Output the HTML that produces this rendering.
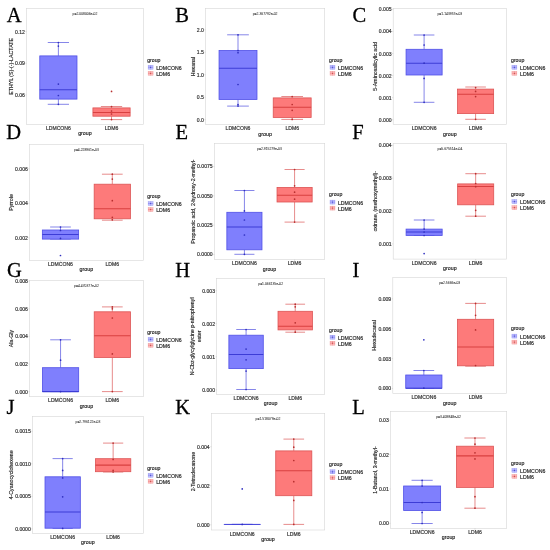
<!DOCTYPE html>
<html><head><meta charset="utf-8"><title>Boxplots</title>
<style>
html,body{margin:0;padding:0;background:#fff;}
svg{display:block;}
text{font-family:"Liberation Sans",Arial,sans-serif;}
.lt{font-family:"Liberation Serif","Times New Roman",serif;font-size:20.5px;fill:#000;stroke:#000;stroke-width:0.3px;}
.pv{font-size:3.4px;fill:#333;stroke:#333;stroke-width:0.05px;text-anchor:middle;}
.tk{font-size:5.1px;fill:#333;stroke:#333;stroke-width:0.18px;text-anchor:end;}
.xl{font-size:5.1px;fill:#333;stroke:#333;stroke-width:0.18px;text-anchor:middle;}
.xt{font-size:5.3px;fill:#222;stroke:#222;stroke-width:0.15px;text-anchor:middle;}
.yt{font-size:5.25px;fill:#222;stroke:#222;stroke-width:0.15px;text-anchor:middle;}
.lg{font-size:5.2px;fill:#222;stroke:#222;stroke-width:0.15px;}
</style></head>
<body>
<svg width="550" height="550" viewBox="0 0 550 550">
<rect width="550" height="550" fill="#fff"/>
<g>
<text x="6.7" y="22.25" class="lt">A</text>
<rect x="26.5" y="8.55" width="116.9" height="115.75" fill="#fff" stroke="#d6d6d6" stroke-width="0.6"/>
<text x="84.95" y="14.95" class="pv">p=2.008006e-02</text>
<text x="24.9" y="33.6" class="tk">0.12</text>
<line x1="25.5" y1="31.6" x2="26.5" y2="31.6" stroke="#aaa" stroke-width="0.4"/>
<text x="24.9" y="65.25" class="tk">0.09</text>
<line x1="25.5" y1="63.25" x2="26.5" y2="63.25" stroke="#aaa" stroke-width="0.4"/>
<text x="24.9" y="96.9" class="tk">0.06</text>
<line x1="25.5" y1="94.9" x2="26.5" y2="94.9" stroke="#aaa" stroke-width="0.4"/>
<line x1="58.38" y1="124.3" x2="58.38" y2="125.6" stroke="#aaa" stroke-width="0.4"/>
<line x1="111.52" y1="124.3" x2="111.52" y2="125.6" stroke="#aaa" stroke-width="0.4"/>
<text x="58.38" y="129.9" class="xl">LDMCON6</text>
<text x="111.52" y="129.9" class="xl">LDM6</text>
<text x="84.95" y="135.3" class="xt">group</text>
<text transform="translate(12.87,66.42) rotate(-90)" x="0" y="0" class="yt">ETHYL (S)-(-)-LACTATE</text>
<line x1="58.38" y1="42.5" x2="58.38" y2="55.9" stroke="#5252e0" stroke-width="0.7"/>
<line x1="58.38" y1="99.1" x2="58.38" y2="104.3" stroke="#5252e0" stroke-width="0.7"/>
<line x1="47.75" y1="42.5" x2="69.01" y2="42.5" stroke="#5252e0" stroke-width="0.7"/>
<line x1="47.75" y1="104.3" x2="69.01" y2="104.3" stroke="#5252e0" stroke-width="0.7"/>
<rect x="39.78" y="55.9" width="37.2" height="43.2" fill="#7f7ffd" stroke="#5050e6" stroke-width="0.8"/>
<line x1="39.78" y1="89.8" x2="76.98" y2="89.8" stroke="#3c3cd6" stroke-width="1.1" stroke-opacity="1"/>
<circle cx="58.38" cy="42.5" r="0.85" fill="#3030c0"/>
<circle cx="58.38" cy="46.1" r="0.85" fill="#3030c0"/>
<circle cx="58.38" cy="84.1" r="0.85" fill="#3030c0"/>
<circle cx="58.38" cy="95.5" r="0.85" fill="#3030c0"/>
<circle cx="58.38" cy="104.3" r="0.85" fill="#3030c0"/>
<line x1="111.52" y1="106.5" x2="111.52" y2="107.9" stroke="#dc5a5a" stroke-width="0.7"/>
<line x1="111.52" y1="116.2" x2="111.52" y2="119.6" stroke="#dc5a5a" stroke-width="0.7"/>
<line x1="100.89" y1="106.5" x2="122.15" y2="106.5" stroke="#dc5a5a" stroke-width="0.7"/>
<line x1="100.89" y1="119.6" x2="122.15" y2="119.6" stroke="#dc5a5a" stroke-width="0.7"/>
<rect x="92.92" y="107.9" width="37.2" height="8.3" fill="#fd7a7a" stroke="#dc5454" stroke-width="0.8"/>
<line x1="92.92" y1="112.5" x2="130.12" y2="112.5" stroke="#d84040" stroke-width="1.1" stroke-opacity="1"/>
<circle cx="111.52" cy="91.4" r="0.85" fill="#b83030"/>
<circle cx="111.52" cy="106.5" r="0.85" fill="#b83030"/>
<circle cx="111.52" cy="111" r="0.85" fill="#b83030"/>
<circle cx="111.52" cy="114" r="0.85" fill="#b83030"/>
<circle cx="111.52" cy="119.6" r="0.85" fill="#b83030"/>
<text x="147.2" y="61.6" class="lg">group</text>
<rect x="148.1" y="65.3" width="5" height="4.0" fill="#7f7ffd" fill-opacity="0.5" stroke="#5050e6" stroke-opacity="0.55" stroke-width="0.35"/>
<line x1="148.1" y1="67.3" x2="153.1" y2="67.3" stroke="#3c3cd6" stroke-opacity="0.6" stroke-width="0.45"/>
<line x1="150.6" y1="65.1" x2="150.6" y2="69.5" stroke="#3c3cd6" stroke-opacity="0.5" stroke-width="0.4"/>
<circle cx="150.6" cy="67.3" r="0.6" fill="#3030c0" fill-opacity="0.7"/>
<text x="156.2" y="69.8" class="lg">LDMCON6</text>
<rect x="148.1" y="71.3" width="5" height="4.0" fill="#fd7a7a" fill-opacity="0.5" stroke="#dc5454" stroke-opacity="0.55" stroke-width="0.35"/>
<line x1="148.1" y1="73.3" x2="153.1" y2="73.3" stroke="#d84040" stroke-opacity="0.6" stroke-width="0.45"/>
<line x1="150.6" y1="71.1" x2="150.6" y2="75.5" stroke="#d84040" stroke-opacity="0.5" stroke-width="0.4"/>
<circle cx="150.6" cy="73.3" r="0.6" fill="#b83030" fill-opacity="0.7"/>
<text x="156.2" y="75.8" class="lg">LDM6</text>
</g>
<g>
<text x="175.2" y="21.95" class="lt">B</text>
<rect x="205.5" y="8.5" width="119.2" height="116" fill="#fff" stroke="#d6d6d6" stroke-width="0.6"/>
<text x="265.1" y="14.9" class="pv">p=2.367792e-02</text>
<text x="203.9" y="31.75" class="tk">2.0</text>
<line x1="204.5" y1="29.75" x2="205.5" y2="29.75" stroke="#aaa" stroke-width="0.4"/>
<text x="203.9" y="54.2" class="tk">1.5</text>
<line x1="204.5" y1="52.2" x2="205.5" y2="52.2" stroke="#aaa" stroke-width="0.4"/>
<text x="203.9" y="76.7" class="tk">1.0</text>
<line x1="204.5" y1="74.7" x2="205.5" y2="74.7" stroke="#aaa" stroke-width="0.4"/>
<text x="203.9" y="99.2" class="tk">0.5</text>
<line x1="204.5" y1="97.2" x2="205.5" y2="97.2" stroke="#aaa" stroke-width="0.4"/>
<text x="203.9" y="121.65" class="tk">0.0</text>
<line x1="204.5" y1="119.65" x2="205.5" y2="119.65" stroke="#aaa" stroke-width="0.4"/>
<line x1="238.01" y1="124.5" x2="238.01" y2="125.8" stroke="#aaa" stroke-width="0.4"/>
<line x1="292.19" y1="124.5" x2="292.19" y2="125.8" stroke="#aaa" stroke-width="0.4"/>
<text x="238.01" y="130.1" class="xl">LDMCON6</text>
<text x="292.19" y="130.1" class="xl">LDM6</text>
<text x="265.1" y="135.5" class="xt">group</text>
<text transform="translate(194.71,66.5) rotate(-90)" x="0" y="0" class="yt">Hexanal</text>
<line x1="238.01" y1="34.8" x2="238.01" y2="50.5" stroke="#5252e0" stroke-width="0.7"/>
<line x1="238.01" y1="99.5" x2="238.01" y2="106.1" stroke="#5252e0" stroke-width="0.7"/>
<line x1="227.17" y1="34.8" x2="248.85" y2="34.8" stroke="#5252e0" stroke-width="0.7"/>
<line x1="227.17" y1="106.1" x2="248.85" y2="106.1" stroke="#5252e0" stroke-width="0.7"/>
<rect x="219.05" y="50.5" width="37.93" height="49" fill="#7f7ffd" stroke="#5050e6" stroke-width="0.8"/>
<line x1="219.05" y1="68.2" x2="256.97" y2="68.2" stroke="#3c3cd6" stroke-width="1.1" stroke-opacity="1"/>
<circle cx="238.01" cy="34.8" r="0.85" fill="#3030c0"/>
<circle cx="238.01" cy="50.5" r="0.85" fill="#3030c0"/>
<circle cx="238.01" cy="52.7" r="0.85" fill="#3030c0"/>
<circle cx="238.01" cy="84.5" r="0.85" fill="#3030c0"/>
<circle cx="238.01" cy="104.5" r="0.85" fill="#3030c0"/>
<circle cx="238.01" cy="106.1" r="0.85" fill="#3030c0"/>
<line x1="292.19" y1="96.5" x2="292.19" y2="97.9" stroke="#dc5a5a" stroke-width="0.7"/>
<line x1="292.19" y1="117.5" x2="292.19" y2="119.4" stroke="#dc5a5a" stroke-width="0.7"/>
<line x1="281.35" y1="96.5" x2="303.03" y2="96.5" stroke="#dc5a5a" stroke-width="0.7"/>
<line x1="281.35" y1="119.4" x2="303.03" y2="119.4" stroke="#dc5a5a" stroke-width="0.7"/>
<rect x="273.23" y="97.9" width="37.93" height="19.6" fill="#fd7a7a" stroke="#dc5454" stroke-width="0.8"/>
<line x1="273.23" y1="107.3" x2="311.15" y2="107.3" stroke="#d84040" stroke-width="1.1" stroke-opacity="1"/>
<circle cx="292.19" cy="96.5" r="0.85" fill="#b83030"/>
<circle cx="292.19" cy="104.5" r="0.85" fill="#b83030"/>
<circle cx="292.19" cy="110.3" r="0.85" fill="#b83030"/>
<circle cx="292.19" cy="119.4" r="0.85" fill="#b83030"/>
<text x="329.1" y="61.6" class="lg">group</text>
<rect x="330" y="65.3" width="5" height="4.0" fill="#7f7ffd" fill-opacity="0.5" stroke="#5050e6" stroke-opacity="0.55" stroke-width="0.35"/>
<line x1="330" y1="67.3" x2="335" y2="67.3" stroke="#3c3cd6" stroke-opacity="0.6" stroke-width="0.45"/>
<line x1="332.5" y1="65.1" x2="332.5" y2="69.5" stroke="#3c3cd6" stroke-opacity="0.5" stroke-width="0.4"/>
<circle cx="332.5" cy="67.3" r="0.6" fill="#3030c0" fill-opacity="0.7"/>
<text x="337.9" y="69.8" class="lg">LDMCON6</text>
<rect x="330" y="71.3" width="5" height="4.0" fill="#fd7a7a" fill-opacity="0.5" stroke="#dc5454" stroke-opacity="0.55" stroke-width="0.35"/>
<line x1="330" y1="73.3" x2="335" y2="73.3" stroke="#d84040" stroke-opacity="0.6" stroke-width="0.45"/>
<line x1="332.5" y1="71.1" x2="332.5" y2="75.5" stroke="#d84040" stroke-opacity="0.5" stroke-width="0.4"/>
<circle cx="332.5" cy="73.3" r="0.6" fill="#b83030" fill-opacity="0.7"/>
<text x="337.9" y="75.8" class="lg">LDM6</text>
</g>
<g>
<text x="352.5" y="22.4" class="lt">C</text>
<rect x="393.2" y="8.4" width="113.3" height="116.1" fill="#fff" stroke="#d6d6d6" stroke-width="0.6"/>
<text x="449.85" y="14.8" class="pv">p=1.143957e-03</text>
<text x="391.6" y="11.35" class="tk">0.005</text>
<line x1="392.2" y1="9.35" x2="393.2" y2="9.35" stroke="#aaa" stroke-width="0.4"/>
<text x="391.6" y="33.43" class="tk">0.004</text>
<line x1="392.2" y1="31.43" x2="393.2" y2="31.43" stroke="#aaa" stroke-width="0.4"/>
<text x="391.6" y="55.5" class="tk">0.003</text>
<line x1="392.2" y1="53.5" x2="393.2" y2="53.5" stroke="#aaa" stroke-width="0.4"/>
<text x="391.6" y="77.6" class="tk">0.002</text>
<line x1="392.2" y1="75.6" x2="393.2" y2="75.6" stroke="#aaa" stroke-width="0.4"/>
<text x="391.6" y="99.7" class="tk">0.001</text>
<line x1="392.2" y1="97.7" x2="393.2" y2="97.7" stroke="#aaa" stroke-width="0.4"/>
<text x="391.6" y="121.75" class="tk">0.000</text>
<line x1="392.2" y1="119.75" x2="393.2" y2="119.75" stroke="#aaa" stroke-width="0.4"/>
<line x1="424.1" y1="124.5" x2="424.1" y2="125.8" stroke="#aaa" stroke-width="0.4"/>
<line x1="475.6" y1="124.5" x2="475.6" y2="125.8" stroke="#aaa" stroke-width="0.4"/>
<text x="424.1" y="130.1" class="xl">LDMCON6</text>
<text x="475.6" y="130.1" class="xl">LDM6</text>
<text x="449.85" y="135.5" class="xt">group</text>
<text transform="translate(376.74,66.45) rotate(-90)" x="0" y="0" class="yt">5-Aminosalicylic acid</text>
<line x1="424.1" y1="35" x2="424.1" y2="49.3" stroke="#5252e0" stroke-width="0.7"/>
<line x1="424.1" y1="75" x2="424.1" y2="102.3" stroke="#5252e0" stroke-width="0.7"/>
<line x1="413.8" y1="35" x2="434.4" y2="35" stroke="#5252e0" stroke-width="0.7"/>
<line x1="413.8" y1="102.3" x2="434.4" y2="102.3" stroke="#5252e0" stroke-width="0.7"/>
<rect x="406.07" y="49.3" width="36.05" height="25.7" fill="#7f7ffd" stroke="#5050e6" stroke-width="0.8"/>
<line x1="406.07" y1="63.2" x2="442.12" y2="63.2" stroke="#3c3cd6" stroke-width="1.1" stroke-opacity="1"/>
<circle cx="424.1" cy="35" r="0.85" fill="#3030c0"/>
<circle cx="424.1" cy="45" r="0.85" fill="#3030c0"/>
<circle cx="424.1" cy="63.2" r="0.85" fill="#3030c0"/>
<circle cx="424.1" cy="78.4" r="0.85" fill="#3030c0"/>
<circle cx="424.1" cy="102.3" r="0.85" fill="#3030c0"/>
<line x1="475.6" y1="87" x2="475.6" y2="89.1" stroke="#dc5a5a" stroke-width="0.7"/>
<line x1="475.6" y1="113.6" x2="475.6" y2="119.3" stroke="#dc5a5a" stroke-width="0.7"/>
<line x1="465.3" y1="87" x2="485.9" y2="87" stroke="#dc5a5a" stroke-width="0.7"/>
<line x1="465.3" y1="119.3" x2="485.9" y2="119.3" stroke="#dc5a5a" stroke-width="0.7"/>
<rect x="457.58" y="89.1" width="36.05" height="24.5" fill="#fd7a7a" stroke="#dc5454" stroke-width="0.8"/>
<line x1="457.58" y1="94.3" x2="493.62" y2="94.3" stroke="#d84040" stroke-width="1.1" stroke-opacity="1"/>
<circle cx="475.6" cy="87.5" r="0.85" fill="#b83030"/>
<circle cx="475.6" cy="91.4" r="0.85" fill="#b83030"/>
<circle cx="475.6" cy="96.6" r="0.85" fill="#b83030"/>
<circle cx="475.6" cy="119.3" r="0.85" fill="#b83030"/>
<text x="511" y="61.6" class="lg">group</text>
<rect x="511.9" y="65.3" width="5" height="4.0" fill="#7f7ffd" fill-opacity="0.5" stroke="#5050e6" stroke-opacity="0.55" stroke-width="0.35"/>
<line x1="511.9" y1="67.3" x2="516.9" y2="67.3" stroke="#3c3cd6" stroke-opacity="0.6" stroke-width="0.45"/>
<line x1="514.4" y1="65.1" x2="514.4" y2="69.5" stroke="#3c3cd6" stroke-opacity="0.5" stroke-width="0.4"/>
<circle cx="514.4" cy="67.3" r="0.6" fill="#3030c0" fill-opacity="0.7"/>
<text x="520" y="69.8" class="lg">LDMCON6</text>
<rect x="511.9" y="71.3" width="5" height="4.0" fill="#fd7a7a" fill-opacity="0.5" stroke="#dc5454" stroke-opacity="0.55" stroke-width="0.35"/>
<line x1="511.9" y1="73.3" x2="516.9" y2="73.3" stroke="#d84040" stroke-opacity="0.6" stroke-width="0.45"/>
<line x1="514.4" y1="71.1" x2="514.4" y2="75.5" stroke="#d84040" stroke-opacity="0.5" stroke-width="0.4"/>
<circle cx="514.4" cy="73.3" r="0.6" fill="#b83030" fill-opacity="0.7"/>
<text x="520" y="75.8" class="lg">LDM6</text>
</g>
<g>
<text x="6.15" y="138.8" class="lt">D</text>
<rect x="29.4" y="144.5" width="114" height="115.9" fill="#fff" stroke="#d6d6d6" stroke-width="0.6"/>
<text x="86.4" y="150.9" class="pv">p=4.228961e-03</text>
<text x="27.8" y="170.7" class="tk">0.006</text>
<line x1="28.4" y1="168.7" x2="29.4" y2="168.7" stroke="#aaa" stroke-width="0.4"/>
<text x="27.8" y="205.3" class="tk">0.004</text>
<line x1="28.4" y1="203.3" x2="29.4" y2="203.3" stroke="#aaa" stroke-width="0.4"/>
<text x="27.8" y="239.9" class="tk">0.002</text>
<line x1="28.4" y1="237.9" x2="29.4" y2="237.9" stroke="#aaa" stroke-width="0.4"/>
<line x1="60.49" y1="260.4" x2="60.49" y2="261.7" stroke="#aaa" stroke-width="0.4"/>
<line x1="112.31" y1="260.4" x2="112.31" y2="261.7" stroke="#aaa" stroke-width="0.4"/>
<text x="60.49" y="266" class="xl">LDMCON6</text>
<text x="112.31" y="266" class="xl">LDM6</text>
<text x="86.4" y="271.4" class="xt">group</text>
<text transform="translate(12.94,202.45) rotate(-90)" x="0" y="0" class="yt">Pyrrole</text>
<line x1="60.49" y1="227" x2="60.49" y2="230" stroke="#5252e0" stroke-width="0.7"/>
<line x1="60.49" y1="239.1" x2="60.49" y2="239.1" stroke="#5252e0" stroke-width="0.7"/>
<line x1="50.13" y1="227" x2="70.85" y2="227" stroke="#5252e0" stroke-width="0.7"/>
<line x1="50.13" y1="239.1" x2="70.85" y2="239.1" stroke="#5252e0" stroke-width="0.7"/>
<rect x="42.35" y="230" width="36.27" height="9.1" fill="#7f7ffd" stroke="#5050e6" stroke-width="0.8"/>
<line x1="42.35" y1="234.5" x2="78.63" y2="234.5" stroke="#3c3cd6" stroke-width="1.1" stroke-opacity="1"/>
<circle cx="60.49" cy="227" r="0.85" fill="#3030c0"/>
<circle cx="60.49" cy="230.5" r="0.85" fill="#3030c0"/>
<circle cx="60.49" cy="238.4" r="0.85" fill="#3030c0"/>
<circle cx="60.49" cy="255.5" r="0.85" fill="#3030c0"/>
<line x1="112.31" y1="174.2" x2="112.31" y2="184.2" stroke="#dc5a5a" stroke-width="0.7"/>
<line x1="112.31" y1="218.8" x2="112.31" y2="220.2" stroke="#dc5a5a" stroke-width="0.7"/>
<line x1="101.95" y1="174.2" x2="122.67" y2="174.2" stroke="#dc5a5a" stroke-width="0.7"/>
<line x1="101.95" y1="220.2" x2="122.67" y2="220.2" stroke="#dc5a5a" stroke-width="0.7"/>
<rect x="94.17" y="184.2" width="36.27" height="34.6" fill="#fd7a7a" stroke="#dc5454" stroke-width="0.8"/>
<line x1="94.17" y1="208.7" x2="130.45" y2="208.7" stroke="#d84040" stroke-width="1.1" stroke-opacity="1"/>
<circle cx="112.31" cy="174.2" r="0.85" fill="#b83030"/>
<circle cx="112.31" cy="179.1" r="0.85" fill="#b83030"/>
<circle cx="112.31" cy="200.7" r="0.85" fill="#b83030"/>
<circle cx="112.31" cy="217.3" r="0.85" fill="#b83030"/>
<circle cx="112.31" cy="219.8" r="0.85" fill="#b83030"/>
<text x="147.2" y="197.8" class="lg">group</text>
<rect x="148.1" y="201.5" width="5" height="4.0" fill="#7f7ffd" fill-opacity="0.5" stroke="#5050e6" stroke-opacity="0.55" stroke-width="0.35"/>
<line x1="148.1" y1="203.5" x2="153.1" y2="203.5" stroke="#3c3cd6" stroke-opacity="0.6" stroke-width="0.45"/>
<line x1="150.6" y1="201.3" x2="150.6" y2="205.7" stroke="#3c3cd6" stroke-opacity="0.5" stroke-width="0.4"/>
<circle cx="150.6" cy="203.5" r="0.6" fill="#3030c0" fill-opacity="0.7"/>
<text x="156.2" y="206" class="lg">LDMCON6</text>
<rect x="148.1" y="207.5" width="5" height="4.0" fill="#fd7a7a" fill-opacity="0.5" stroke="#dc5454" stroke-opacity="0.55" stroke-width="0.35"/>
<line x1="148.1" y1="209.5" x2="153.1" y2="209.5" stroke="#d84040" stroke-opacity="0.6" stroke-width="0.45"/>
<line x1="150.6" y1="207.3" x2="150.6" y2="211.7" stroke="#d84040" stroke-opacity="0.5" stroke-width="0.4"/>
<circle cx="150.6" cy="209.5" r="0.6" fill="#b83030" fill-opacity="0.7"/>
<text x="156.2" y="212" class="lg">LDM6</text>
</g>
<g>
<text x="175.45" y="139.15" class="lt">E</text>
<rect x="214.3" y="143.5" width="110.4" height="116.1" fill="#fff" stroke="#d6d6d6" stroke-width="0.6"/>
<text x="269.5" y="149.9" class="pv">p=2.915279e-03</text>
<text x="212.7" y="168.45" class="tk">0.0075</text>
<line x1="213.3" y1="166.45" x2="214.3" y2="166.45" stroke="#aaa" stroke-width="0.4"/>
<text x="212.7" y="197.8" class="tk">0.0050</text>
<line x1="213.3" y1="195.8" x2="214.3" y2="195.8" stroke="#aaa" stroke-width="0.4"/>
<text x="212.7" y="227.1" class="tk">0.0025</text>
<line x1="213.3" y1="225.1" x2="214.3" y2="225.1" stroke="#aaa" stroke-width="0.4"/>
<text x="212.7" y="256.45" class="tk">0.0000</text>
<line x1="213.3" y1="254.45" x2="214.3" y2="254.45" stroke="#aaa" stroke-width="0.4"/>
<line x1="244.41" y1="259.6" x2="244.41" y2="260.9" stroke="#aaa" stroke-width="0.4"/>
<line x1="294.59" y1="259.6" x2="294.59" y2="260.9" stroke="#aaa" stroke-width="0.4"/>
<text x="244.41" y="265.2" class="xl">LDMCON6</text>
<text x="294.59" y="265.2" class="xl">LDM6</text>
<text x="269.5" y="270.6" class="xt">group</text>
<text transform="translate(195,201.55) rotate(-90)" x="0" y="0" class="yt">Propanoic acid, 2-hydroxy-2-methyl-</text>
<line x1="244.41" y1="190.5" x2="244.41" y2="212.3" stroke="#5252e0" stroke-width="0.7"/>
<line x1="244.41" y1="249.8" x2="244.41" y2="254.3" stroke="#5252e0" stroke-width="0.7"/>
<line x1="234.37" y1="190.5" x2="254.45" y2="190.5" stroke="#5252e0" stroke-width="0.7"/>
<line x1="234.37" y1="254.3" x2="254.45" y2="254.3" stroke="#5252e0" stroke-width="0.7"/>
<rect x="226.85" y="212.3" width="35.13" height="37.5" fill="#7f7ffd" stroke="#5050e6" stroke-width="0.8"/>
<line x1="226.85" y1="227" x2="261.97" y2="227" stroke="#3c3cd6" stroke-width="1.1" stroke-opacity="1"/>
<circle cx="244.41" cy="190.5" r="0.85" fill="#3030c0"/>
<circle cx="244.41" cy="210.9" r="0.85" fill="#3030c0"/>
<circle cx="244.41" cy="220" r="0.85" fill="#3030c0"/>
<circle cx="244.41" cy="235" r="0.85" fill="#3030c0"/>
<circle cx="244.41" cy="254.3" r="0.85" fill="#3030c0"/>
<line x1="294.59" y1="169.5" x2="294.59" y2="187.4" stroke="#dc5a5a" stroke-width="0.7"/>
<line x1="294.59" y1="202" x2="294.59" y2="222.1" stroke="#dc5a5a" stroke-width="0.7"/>
<line x1="284.55" y1="169.5" x2="304.63" y2="169.5" stroke="#dc5a5a" stroke-width="0.7"/>
<line x1="284.55" y1="222.1" x2="304.63" y2="222.1" stroke="#dc5a5a" stroke-width="0.7"/>
<rect x="277.03" y="187.4" width="35.13" height="14.6" fill="#fd7a7a" stroke="#dc5454" stroke-width="0.8"/>
<line x1="277.03" y1="195.2" x2="312.15" y2="195.2" stroke="#d84040" stroke-width="1.1" stroke-opacity="1"/>
<circle cx="294.59" cy="169.5" r="0.85" fill="#b83030"/>
<circle cx="294.59" cy="185.8" r="0.85" fill="#b83030"/>
<circle cx="294.59" cy="192.2" r="0.85" fill="#b83030"/>
<circle cx="294.59" cy="199.2" r="0.85" fill="#b83030"/>
<circle cx="294.59" cy="222.1" r="0.85" fill="#b83030"/>
<text x="329.1" y="196.4" class="lg">group</text>
<rect x="330" y="200.1" width="5" height="4.0" fill="#7f7ffd" fill-opacity="0.5" stroke="#5050e6" stroke-opacity="0.55" stroke-width="0.35"/>
<line x1="330" y1="202.1" x2="335" y2="202.1" stroke="#3c3cd6" stroke-opacity="0.6" stroke-width="0.45"/>
<line x1="332.5" y1="199.9" x2="332.5" y2="204.3" stroke="#3c3cd6" stroke-opacity="0.5" stroke-width="0.4"/>
<circle cx="332.5" cy="202.1" r="0.6" fill="#3030c0" fill-opacity="0.7"/>
<text x="337.9" y="204.6" class="lg">LDMCON6</text>
<rect x="330" y="206.1" width="5" height="4.0" fill="#fd7a7a" fill-opacity="0.5" stroke="#dc5454" stroke-opacity="0.55" stroke-width="0.35"/>
<line x1="330" y1="208.1" x2="335" y2="208.1" stroke="#d84040" stroke-opacity="0.6" stroke-width="0.45"/>
<line x1="332.5" y1="205.9" x2="332.5" y2="210.3" stroke="#d84040" stroke-opacity="0.5" stroke-width="0.4"/>
<circle cx="332.5" cy="208.1" r="0.6" fill="#b83030" fill-opacity="0.7"/>
<text x="337.9" y="210.6" class="lg">LDM6</text>
</g>
<g>
<text x="352.35" y="138.95" class="lt">F</text>
<rect x="393.2" y="143.4" width="113.4" height="115.7" fill="#fff" stroke="#d6d6d6" stroke-width="0.6"/>
<text x="449.9" y="149.8" class="pv">p=5.675514e-04</text>
<text x="391.6" y="147.35" class="tk">0.004</text>
<line x1="392.2" y1="145.35" x2="393.2" y2="145.35" stroke="#aaa" stroke-width="0.4"/>
<text x="391.6" y="180.2" class="tk">0.003</text>
<line x1="392.2" y1="178.2" x2="393.2" y2="178.2" stroke="#aaa" stroke-width="0.4"/>
<text x="391.6" y="213" class="tk">0.002</text>
<line x1="392.2" y1="211" x2="393.2" y2="211" stroke="#aaa" stroke-width="0.4"/>
<text x="391.6" y="245.85" class="tk">0.001</text>
<line x1="392.2" y1="243.85" x2="393.2" y2="243.85" stroke="#aaa" stroke-width="0.4"/>
<line x1="424.13" y1="259.1" x2="424.13" y2="260.4" stroke="#aaa" stroke-width="0.4"/>
<line x1="475.67" y1="259.1" x2="475.67" y2="260.4" stroke="#aaa" stroke-width="0.4"/>
<text x="424.13" y="264.7" class="xl">LDMCON6</text>
<text x="475.67" y="264.7" class="xl">LDM6</text>
<text x="449.9" y="270.1" class="xt">group</text>
<text transform="translate(376.74,201.25) rotate(-90)" x="0" y="0" class="yt">oxirane, (methoxymethyl)-</text>
<line x1="424.13" y1="220" x2="424.13" y2="229.1" stroke="#5252e0" stroke-width="0.7"/>
<line x1="424.13" y1="235.5" x2="424.13" y2="235.5" stroke="#5252e0" stroke-width="0.7"/>
<line x1="413.82" y1="220" x2="434.44" y2="220" stroke="#5252e0" stroke-width="0.7"/>
<line x1="413.82" y1="235.5" x2="434.44" y2="235.5" stroke="#5252e0" stroke-width="0.7"/>
<rect x="406.09" y="229.1" width="36.08" height="6.4" fill="#7f7ffd" stroke="#5050e6" stroke-width="0.8"/>
<line x1="406.09" y1="232" x2="442.17" y2="232" stroke="#3c3cd6" stroke-width="1.1" stroke-opacity="1"/>
<circle cx="424.13" cy="220" r="0.85" fill="#3030c0"/>
<circle cx="424.13" cy="229.1" r="0.85" fill="#3030c0"/>
<circle cx="424.13" cy="232" r="0.85" fill="#3030c0"/>
<circle cx="424.13" cy="235.5" r="0.85" fill="#3030c0"/>
<circle cx="424.13" cy="253.6" r="0.85" fill="#3030c0"/>
<line x1="475.67" y1="173.7" x2="475.67" y2="183.9" stroke="#dc5a5a" stroke-width="0.7"/>
<line x1="475.67" y1="204.8" x2="475.67" y2="216.2" stroke="#dc5a5a" stroke-width="0.7"/>
<line x1="465.36" y1="173.7" x2="485.98" y2="173.7" stroke="#dc5a5a" stroke-width="0.7"/>
<line x1="465.36" y1="216.2" x2="485.98" y2="216.2" stroke="#dc5a5a" stroke-width="0.7"/>
<rect x="457.63" y="183.9" width="36.08" height="20.9" fill="#fd7a7a" stroke="#dc5454" stroke-width="0.8"/>
<line x1="457.63" y1="186.5" x2="493.71" y2="186.5" stroke="#d84040" stroke-width="1.1" stroke-opacity="1"/>
<circle cx="475.67" cy="173.7" r="0.85" fill="#b83030"/>
<circle cx="475.67" cy="183.5" r="0.85" fill="#b83030"/>
<circle cx="475.67" cy="186.7" r="0.85" fill="#b83030"/>
<circle cx="475.67" cy="210.3" r="0.85" fill="#b83030"/>
<circle cx="475.67" cy="216.2" r="0.85" fill="#b83030"/>
<text x="511" y="195.9" class="lg">group</text>
<rect x="511.9" y="199.6" width="5" height="4.0" fill="#7f7ffd" fill-opacity="0.5" stroke="#5050e6" stroke-opacity="0.55" stroke-width="0.35"/>
<line x1="511.9" y1="201.6" x2="516.9" y2="201.6" stroke="#3c3cd6" stroke-opacity="0.6" stroke-width="0.45"/>
<line x1="514.4" y1="199.4" x2="514.4" y2="203.8" stroke="#3c3cd6" stroke-opacity="0.5" stroke-width="0.4"/>
<circle cx="514.4" cy="201.6" r="0.6" fill="#3030c0" fill-opacity="0.7"/>
<text x="520" y="204.1" class="lg">LDMCON6</text>
<rect x="511.9" y="205.6" width="5" height="4.0" fill="#fd7a7a" fill-opacity="0.5" stroke="#dc5454" stroke-opacity="0.55" stroke-width="0.35"/>
<line x1="511.9" y1="207.6" x2="516.9" y2="207.6" stroke="#d84040" stroke-opacity="0.6" stroke-width="0.45"/>
<line x1="514.4" y1="205.4" x2="514.4" y2="209.8" stroke="#d84040" stroke-opacity="0.5" stroke-width="0.4"/>
<circle cx="514.4" cy="207.6" r="0.6" fill="#b83030" fill-opacity="0.7"/>
<text x="520" y="210.1" class="lg">LDM6</text>
</g>
<g>
<text x="6.95" y="277.15" class="lt">G</text>
<rect x="29.5" y="280.5" width="113.9" height="116.2" fill="#fff" stroke="#d6d6d6" stroke-width="0.6"/>
<text x="86.45" y="286.9" class="pv">p=4.470377e-02</text>
<text x="27.9" y="283.2" class="tk">0.008</text>
<line x1="28.5" y1="281.2" x2="29.5" y2="281.2" stroke="#aaa" stroke-width="0.4"/>
<text x="27.9" y="310.8" class="tk">0.006</text>
<line x1="28.5" y1="308.8" x2="29.5" y2="308.8" stroke="#aaa" stroke-width="0.4"/>
<text x="27.9" y="338.4" class="tk">0.004</text>
<line x1="28.5" y1="336.4" x2="29.5" y2="336.4" stroke="#aaa" stroke-width="0.4"/>
<text x="27.9" y="366" class="tk">0.002</text>
<line x1="28.5" y1="364" x2="29.5" y2="364" stroke="#aaa" stroke-width="0.4"/>
<text x="27.9" y="393.65" class="tk">0.000</text>
<line x1="28.5" y1="391.65" x2="29.5" y2="391.65" stroke="#aaa" stroke-width="0.4"/>
<line x1="60.56" y1="396.7" x2="60.56" y2="398" stroke="#aaa" stroke-width="0.4"/>
<line x1="112.34" y1="396.7" x2="112.34" y2="398" stroke="#aaa" stroke-width="0.4"/>
<text x="60.56" y="402.3" class="xl">LDMCON6</text>
<text x="112.34" y="402.3" class="xl">LDM6</text>
<text x="86.45" y="407.7" class="xt">group</text>
<text transform="translate(13.04,338.6) rotate(-90)" x="0" y="0" class="yt">Ala-Gly</text>
<line x1="60.56" y1="339.8" x2="60.56" y2="367.7" stroke="#5252e0" stroke-width="0.7"/>
<line x1="60.56" y1="391.6" x2="60.56" y2="391.6" stroke="#5252e0" stroke-width="0.7"/>
<line x1="50.21" y1="339.8" x2="70.92" y2="339.8" stroke="#5252e0" stroke-width="0.7"/>
<line x1="50.21" y1="391.6" x2="70.92" y2="391.6" stroke="#5252e0" stroke-width="0.7"/>
<rect x="42.44" y="367.7" width="36.24" height="23.9" fill="#7f7ffd" stroke="#5050e6" stroke-width="0.8"/>
<line x1="42.44" y1="391.6" x2="78.68" y2="391.6" stroke="#3c3cd6" stroke-width="1.1" stroke-opacity="1"/>
<circle cx="60.56" cy="339.8" r="0.85" fill="#3030c0"/>
<circle cx="60.56" cy="360.2" r="0.85" fill="#3030c0"/>
<circle cx="60.56" cy="391.6" r="0.85" fill="#3030c0"/>
<line x1="112.34" y1="306.9" x2="112.34" y2="311.8" stroke="#dc5a5a" stroke-width="0.7"/>
<line x1="112.34" y1="357.5" x2="112.34" y2="391.6" stroke="#dc5a5a" stroke-width="0.7"/>
<line x1="101.98" y1="306.9" x2="122.69" y2="306.9" stroke="#dc5a5a" stroke-width="0.7"/>
<line x1="101.98" y1="391.6" x2="122.69" y2="391.6" stroke="#dc5a5a" stroke-width="0.7"/>
<rect x="94.22" y="311.8" width="36.24" height="45.7" fill="#fd7a7a" stroke="#dc5454" stroke-width="0.8"/>
<line x1="94.22" y1="335.7" x2="130.46" y2="335.7" stroke="#d84040" stroke-width="1.1" stroke-opacity="1"/>
<circle cx="112.34" cy="306.9" r="0.85" fill="#b83030"/>
<circle cx="112.34" cy="308.8" r="0.85" fill="#b83030"/>
<circle cx="112.34" cy="318" r="0.85" fill="#b83030"/>
<circle cx="112.34" cy="353.9" r="0.85" fill="#b83030"/>
<circle cx="112.34" cy="391.6" r="0.85" fill="#b83030"/>
<text x="147.2" y="333.6" class="lg">group</text>
<rect x="148.1" y="337.3" width="5" height="4.0" fill="#7f7ffd" fill-opacity="0.5" stroke="#5050e6" stroke-opacity="0.55" stroke-width="0.35"/>
<line x1="148.1" y1="339.3" x2="153.1" y2="339.3" stroke="#3c3cd6" stroke-opacity="0.6" stroke-width="0.45"/>
<line x1="150.6" y1="337.1" x2="150.6" y2="341.5" stroke="#3c3cd6" stroke-opacity="0.5" stroke-width="0.4"/>
<circle cx="150.6" cy="339.3" r="0.6" fill="#3030c0" fill-opacity="0.7"/>
<text x="156.2" y="341.8" class="lg">LDMCON6</text>
<rect x="148.1" y="343.3" width="5" height="4.0" fill="#fd7a7a" fill-opacity="0.5" stroke="#dc5454" stroke-opacity="0.55" stroke-width="0.35"/>
<line x1="148.1" y1="345.3" x2="153.1" y2="345.3" stroke="#d84040" stroke-opacity="0.6" stroke-width="0.45"/>
<line x1="150.6" y1="343.1" x2="150.6" y2="347.5" stroke="#d84040" stroke-opacity="0.5" stroke-width="0.4"/>
<circle cx="150.6" cy="345.3" r="0.6" fill="#b83030" fill-opacity="0.7"/>
<text x="156.2" y="347.8" class="lg">LDM6</text>
</g>
<g>
<text x="175.3" y="277" class="lt">H</text>
<rect x="216.6" y="278.4" width="108.1" height="116" fill="#fff" stroke="#d6d6d6" stroke-width="0.6"/>
<text x="270.65" y="284.8" class="pv">p=1.066135e-02</text>
<text x="215" y="292.7" class="tk">0.003</text>
<line x1="215.6" y1="290.7" x2="216.6" y2="290.7" stroke="#aaa" stroke-width="0.4"/>
<text x="215" y="325.7" class="tk">0.002</text>
<line x1="215.6" y1="323.7" x2="216.6" y2="323.7" stroke="#aaa" stroke-width="0.4"/>
<text x="215" y="358.8" class="tk">0.001</text>
<line x1="215.6" y1="356.8" x2="216.6" y2="356.8" stroke="#aaa" stroke-width="0.4"/>
<text x="215" y="391.8" class="tk">0.000</text>
<line x1="215.6" y1="389.8" x2="216.6" y2="389.8" stroke="#aaa" stroke-width="0.4"/>
<line x1="246.08" y1="394.4" x2="246.08" y2="395.7" stroke="#aaa" stroke-width="0.4"/>
<line x1="295.22" y1="394.4" x2="295.22" y2="395.7" stroke="#aaa" stroke-width="0.4"/>
<text x="246.08" y="400" class="xl">LDMCON6</text>
<text x="295.22" y="400" class="xl">LDM6</text>
<text x="270.65" y="405.4" class="xt">group</text>
<text transform="translate(194.24,336.4) rotate(-90)" x="0" y="0" class="yt">N-Cbz-glycylglycine p-nitrophenyl</text>
<text transform="translate(200.54,336.4) rotate(-90)" x="0" y="0" class="yt">ester</text>
<line x1="246.08" y1="329.5" x2="246.08" y2="335.2" stroke="#5252e0" stroke-width="0.7"/>
<line x1="246.08" y1="368.6" x2="246.08" y2="389.5" stroke="#5252e0" stroke-width="0.7"/>
<line x1="236.25" y1="329.5" x2="255.91" y2="329.5" stroke="#5252e0" stroke-width="0.7"/>
<line x1="236.25" y1="389.5" x2="255.91" y2="389.5" stroke="#5252e0" stroke-width="0.7"/>
<rect x="228.88" y="335.2" width="34.4" height="33.4" fill="#7f7ffd" stroke="#5050e6" stroke-width="0.8"/>
<line x1="228.88" y1="354.5" x2="263.28" y2="354.5" stroke="#3c3cd6" stroke-width="1.1" stroke-opacity="1"/>
<circle cx="246.08" cy="329.5" r="0.85" fill="#3030c0"/>
<circle cx="246.08" cy="349.1" r="0.85" fill="#3030c0"/>
<circle cx="246.08" cy="359.8" r="0.85" fill="#3030c0"/>
<circle cx="246.08" cy="371.1" r="0.85" fill="#3030c0"/>
<circle cx="246.08" cy="389.5" r="0.85" fill="#3030c0"/>
<line x1="295.22" y1="304.2" x2="295.22" y2="311.3" stroke="#dc5a5a" stroke-width="0.7"/>
<line x1="295.22" y1="329.9" x2="295.22" y2="332.2" stroke="#dc5a5a" stroke-width="0.7"/>
<line x1="285.39" y1="304.2" x2="305.05" y2="304.2" stroke="#dc5a5a" stroke-width="0.7"/>
<line x1="285.39" y1="332.2" x2="305.05" y2="332.2" stroke="#dc5a5a" stroke-width="0.7"/>
<rect x="278.02" y="311.3" width="34.4" height="18.6" fill="#fd7a7a" stroke="#dc5454" stroke-width="0.8"/>
<line x1="278.02" y1="326.3" x2="312.42" y2="326.3" stroke="#d84040" stroke-width="1.1" stroke-opacity="1"/>
<circle cx="295.22" cy="304.2" r="0.85" fill="#b83030"/>
<circle cx="295.22" cy="306.8" r="0.85" fill="#b83030"/>
<circle cx="295.22" cy="322.8" r="0.85" fill="#b83030"/>
<circle cx="295.22" cy="332.2" r="0.85" fill="#b83030"/>
<text x="329.1" y="331.5" class="lg">group</text>
<rect x="330" y="335.2" width="5" height="4.0" fill="#7f7ffd" fill-opacity="0.5" stroke="#5050e6" stroke-opacity="0.55" stroke-width="0.35"/>
<line x1="330" y1="337.2" x2="335" y2="337.2" stroke="#3c3cd6" stroke-opacity="0.6" stroke-width="0.45"/>
<line x1="332.5" y1="335" x2="332.5" y2="339.4" stroke="#3c3cd6" stroke-opacity="0.5" stroke-width="0.4"/>
<circle cx="332.5" cy="337.2" r="0.6" fill="#3030c0" fill-opacity="0.7"/>
<text x="337.9" y="339.7" class="lg">LDMCON6</text>
<rect x="330" y="341.2" width="5" height="4.0" fill="#fd7a7a" fill-opacity="0.5" stroke="#dc5454" stroke-opacity="0.55" stroke-width="0.35"/>
<line x1="330" y1="343.2" x2="335" y2="343.2" stroke="#d84040" stroke-opacity="0.6" stroke-width="0.45"/>
<line x1="332.5" y1="341" x2="332.5" y2="345.4" stroke="#d84040" stroke-opacity="0.5" stroke-width="0.4"/>
<circle cx="332.5" cy="343.2" r="0.6" fill="#b83030" fill-opacity="0.7"/>
<text x="337.9" y="345.7" class="lg">LDM6</text>
</g>
<g>
<text x="352.5" y="277.35" class="lt">I</text>
<rect x="392.8" y="277.5" width="113.8" height="116" fill="#fff" stroke="#d6d6d6" stroke-width="0.6"/>
<text x="449.7" y="283.9" class="pv">p=2.5666e-03</text>
<text x="391.2" y="300.8" class="tk">0.009</text>
<line x1="391.8" y1="298.8" x2="392.8" y2="298.8" stroke="#aaa" stroke-width="0.4"/>
<text x="391.2" y="330.7" class="tk">0.006</text>
<line x1="391.8" y1="328.7" x2="392.8" y2="328.7" stroke="#aaa" stroke-width="0.4"/>
<text x="391.2" y="360.6" class="tk">0.003</text>
<line x1="391.8" y1="358.6" x2="392.8" y2="358.6" stroke="#aaa" stroke-width="0.4"/>
<text x="391.2" y="390.45" class="tk">0.000</text>
<line x1="391.8" y1="388.45" x2="392.8" y2="388.45" stroke="#aaa" stroke-width="0.4"/>
<line x1="423.84" y1="393.5" x2="423.84" y2="394.8" stroke="#aaa" stroke-width="0.4"/>
<line x1="475.56" y1="393.5" x2="475.56" y2="394.8" stroke="#aaa" stroke-width="0.4"/>
<text x="423.84" y="399.1" class="xl">LDMCON6</text>
<text x="475.56" y="399.1" class="xl">LDM6</text>
<text x="449.7" y="404.5" class="xt">group</text>
<text transform="translate(376.34,335.5) rotate(-90)" x="0" y="0" class="yt">Hexadecanal</text>
<line x1="423.84" y1="370.5" x2="423.84" y2="375" stroke="#5252e0" stroke-width="0.7"/>
<line x1="423.84" y1="388.2" x2="423.84" y2="388.2" stroke="#5252e0" stroke-width="0.7"/>
<line x1="413.49" y1="370.5" x2="434.18" y2="370.5" stroke="#5252e0" stroke-width="0.7"/>
<line x1="413.49" y1="388.2" x2="434.18" y2="388.2" stroke="#5252e0" stroke-width="0.7"/>
<rect x="405.73" y="375" width="36.21" height="13.2" fill="#7f7ffd" stroke="#5050e6" stroke-width="0.8"/>
<line x1="405.73" y1="388.2" x2="441.94" y2="388.2" stroke="#3c3cd6" stroke-width="1.1" stroke-opacity="1"/>
<circle cx="423.84" cy="339.8" r="0.85" fill="#3030c0"/>
<circle cx="423.84" cy="370.5" r="0.85" fill="#3030c0"/>
<circle cx="423.84" cy="388.2" r="0.85" fill="#3030c0"/>
<line x1="475.56" y1="303.4" x2="475.56" y2="319.3" stroke="#dc5a5a" stroke-width="0.7"/>
<line x1="475.56" y1="365.8" x2="475.56" y2="366.2" stroke="#dc5a5a" stroke-width="0.7"/>
<line x1="465.22" y1="303.4" x2="485.91" y2="303.4" stroke="#dc5a5a" stroke-width="0.7"/>
<line x1="465.22" y1="366.2" x2="485.91" y2="366.2" stroke="#dc5a5a" stroke-width="0.7"/>
<rect x="457.46" y="319.3" width="36.21" height="46.5" fill="#fd7a7a" stroke="#dc5454" stroke-width="0.8"/>
<line x1="457.46" y1="347" x2="493.67" y2="347" stroke="#d84040" stroke-width="1.1" stroke-opacity="1"/>
<circle cx="475.56" cy="303.4" r="0.85" fill="#b83030"/>
<circle cx="475.56" cy="315.3" r="0.85" fill="#b83030"/>
<circle cx="475.56" cy="329.9" r="0.85" fill="#b83030"/>
<circle cx="475.56" cy="365.5" r="0.85" fill="#b83030"/>
<text x="511" y="330.4" class="lg">group</text>
<rect x="511.9" y="334.1" width="5" height="4.0" fill="#7f7ffd" fill-opacity="0.5" stroke="#5050e6" stroke-opacity="0.55" stroke-width="0.35"/>
<line x1="511.9" y1="336.1" x2="516.9" y2="336.1" stroke="#3c3cd6" stroke-opacity="0.6" stroke-width="0.45"/>
<line x1="514.4" y1="333.9" x2="514.4" y2="338.3" stroke="#3c3cd6" stroke-opacity="0.5" stroke-width="0.4"/>
<circle cx="514.4" cy="336.1" r="0.6" fill="#3030c0" fill-opacity="0.7"/>
<text x="520" y="338.6" class="lg">LDMCON6</text>
<rect x="511.9" y="340.1" width="5" height="4.0" fill="#fd7a7a" fill-opacity="0.5" stroke="#dc5454" stroke-opacity="0.55" stroke-width="0.35"/>
<line x1="511.9" y1="342.1" x2="516.9" y2="342.1" stroke="#d84040" stroke-opacity="0.6" stroke-width="0.45"/>
<line x1="514.4" y1="339.9" x2="514.4" y2="344.3" stroke="#d84040" stroke-opacity="0.5" stroke-width="0.4"/>
<circle cx="514.4" cy="342.1" r="0.6" fill="#b83030" fill-opacity="0.7"/>
<text x="520" y="344.6" class="lg">LDM6</text>
</g>
<g>
<text x="6.55" y="414.4" class="lt">J</text>
<rect x="32.4" y="416.4" width="111" height="116.9" fill="#fff" stroke="#d6d6d6" stroke-width="0.6"/>
<text x="87.9" y="422.8" class="pv">p=2.796122e-03</text>
<text x="30.8" y="433.25" class="tk">0.0015</text>
<line x1="31.4" y1="431.25" x2="32.4" y2="431.25" stroke="#aaa" stroke-width="0.4"/>
<text x="30.8" y="465.8" class="tk">0.0010</text>
<line x1="31.4" y1="463.8" x2="32.4" y2="463.8" stroke="#aaa" stroke-width="0.4"/>
<text x="30.8" y="498.35" class="tk">0.0005</text>
<line x1="31.4" y1="496.35" x2="32.4" y2="496.35" stroke="#aaa" stroke-width="0.4"/>
<text x="30.8" y="530.9" class="tk">0.0000</text>
<line x1="31.4" y1="528.9" x2="32.4" y2="528.9" stroke="#aaa" stroke-width="0.4"/>
<line x1="62.67" y1="533.3" x2="62.67" y2="534.6" stroke="#aaa" stroke-width="0.4"/>
<line x1="113.13" y1="533.3" x2="113.13" y2="534.6" stroke="#aaa" stroke-width="0.4"/>
<text x="62.67" y="538.9" class="xl">LDMCON6</text>
<text x="113.13" y="538.9" class="xl">LDM6</text>
<text x="87.9" y="544.3" class="xt">group</text>
<text transform="translate(13.1,474.85) rotate(-90)" x="0" y="0" class="yt">4-Cyanocyclohexene</text>
<line x1="62.67" y1="458.6" x2="62.67" y2="476.8" stroke="#5252e0" stroke-width="0.7"/>
<line x1="62.67" y1="528.2" x2="62.67" y2="528.4" stroke="#5252e0" stroke-width="0.7"/>
<line x1="52.58" y1="458.6" x2="72.76" y2="458.6" stroke="#5252e0" stroke-width="0.7"/>
<line x1="52.58" y1="528.4" x2="72.76" y2="528.4" stroke="#5252e0" stroke-width="0.7"/>
<rect x="45.01" y="476.8" width="35.32" height="51.4" fill="#7f7ffd" stroke="#5050e6" stroke-width="0.8"/>
<line x1="45.01" y1="512" x2="80.33" y2="512" stroke="#3c3cd6" stroke-width="1.1" stroke-opacity="1"/>
<circle cx="62.67" cy="458.6" r="0.85" fill="#3030c0"/>
<circle cx="62.67" cy="470.4" r="0.85" fill="#3030c0"/>
<circle cx="62.67" cy="477.9" r="0.85" fill="#3030c0"/>
<circle cx="62.67" cy="496.8" r="0.85" fill="#3030c0"/>
<circle cx="62.67" cy="528.4" r="0.85" fill="#3030c0"/>
<line x1="113.13" y1="443.1" x2="113.13" y2="458.7" stroke="#dc5a5a" stroke-width="0.7"/>
<line x1="113.13" y1="471.7" x2="113.13" y2="472" stroke="#dc5a5a" stroke-width="0.7"/>
<line x1="103.04" y1="443.1" x2="123.22" y2="443.1" stroke="#dc5a5a" stroke-width="0.7"/>
<line x1="103.04" y1="472" x2="123.22" y2="472" stroke="#dc5a5a" stroke-width="0.7"/>
<rect x="95.47" y="458.7" width="35.32" height="13" fill="#fd7a7a" stroke="#dc5454" stroke-width="0.8"/>
<line x1="95.47" y1="465.1" x2="130.79" y2="465.1" stroke="#d84040" stroke-width="1.1" stroke-opacity="1"/>
<circle cx="113.13" cy="443.1" r="0.85" fill="#b83030"/>
<circle cx="113.13" cy="459.4" r="0.85" fill="#b83030"/>
<circle cx="113.13" cy="470.3" r="0.85" fill="#b83030"/>
<circle cx="113.13" cy="472" r="0.85" fill="#b83030"/>
<text x="147.2" y="469.6" class="lg">group</text>
<rect x="148.1" y="473.3" width="5" height="4.0" fill="#7f7ffd" fill-opacity="0.5" stroke="#5050e6" stroke-opacity="0.55" stroke-width="0.35"/>
<line x1="148.1" y1="475.3" x2="153.1" y2="475.3" stroke="#3c3cd6" stroke-opacity="0.6" stroke-width="0.45"/>
<line x1="150.6" y1="473.1" x2="150.6" y2="477.5" stroke="#3c3cd6" stroke-opacity="0.5" stroke-width="0.4"/>
<circle cx="150.6" cy="475.3" r="0.6" fill="#3030c0" fill-opacity="0.7"/>
<text x="156.2" y="477.8" class="lg">LDMCON6</text>
<rect x="148.1" y="479.3" width="5" height="4.0" fill="#fd7a7a" fill-opacity="0.5" stroke="#dc5454" stroke-opacity="0.55" stroke-width="0.35"/>
<line x1="148.1" y1="481.3" x2="153.1" y2="481.3" stroke="#d84040" stroke-opacity="0.6" stroke-width="0.45"/>
<line x1="150.6" y1="479.1" x2="150.6" y2="483.5" stroke="#d84040" stroke-opacity="0.5" stroke-width="0.4"/>
<circle cx="150.6" cy="481.3" r="0.6" fill="#b83030" fill-opacity="0.7"/>
<text x="156.2" y="483.8" class="lg">LDM6</text>
</g>
<g>
<text x="175.35" y="413.8" class="lt">K</text>
<rect x="211.3" y="413.3" width="113.4" height="116.7" fill="#fff" stroke="#d6d6d6" stroke-width="0.6"/>
<text x="268" y="419.7" class="pv">p=1.518079e-02</text>
<text x="209.7" y="448.7" class="tk">0.004</text>
<line x1="210.3" y1="446.7" x2="211.3" y2="446.7" stroke="#aaa" stroke-width="0.4"/>
<text x="209.7" y="487.75" class="tk">0.002</text>
<line x1="210.3" y1="485.75" x2="211.3" y2="485.75" stroke="#aaa" stroke-width="0.4"/>
<text x="209.7" y="526.8" class="tk">0.000</text>
<line x1="210.3" y1="524.8" x2="211.3" y2="524.8" stroke="#aaa" stroke-width="0.4"/>
<line x1="242.23" y1="530" x2="242.23" y2="531.3" stroke="#aaa" stroke-width="0.4"/>
<line x1="293.77" y1="530" x2="293.77" y2="531.3" stroke="#aaa" stroke-width="0.4"/>
<text x="242.23" y="535.6" class="xl">LDMCON6</text>
<text x="293.77" y="535.6" class="xl">LDM6</text>
<text x="268" y="541" class="xt">group</text>
<text transform="translate(194.84,471.65) rotate(-90)" x="0" y="0" class="yt">2-Tetradecanone</text>
<line x1="242.23" y1="524.4" x2="242.23" y2="524.4" stroke="#5252e0" stroke-width="0.7"/>
<line x1="242.23" y1="524.4" x2="242.23" y2="524.4" stroke="#5252e0" stroke-width="0.7"/>
<line x1="231.92" y1="524.4" x2="252.54" y2="524.4" stroke="#5252e0" stroke-width="0.7"/>
<line x1="231.92" y1="524.4" x2="252.54" y2="524.4" stroke="#5252e0" stroke-width="0.7"/>
<rect x="224.19" y="524.4" width="36.08" height="0.01" fill="#7f7ffd" stroke="#5050e6" stroke-width="0.8"/>
<line x1="224.19" y1="524.4" x2="260.27" y2="524.4" stroke="#3c3cd6" stroke-width="0.9" stroke-opacity="0.85"/>
<circle cx="242.23" cy="488.9" r="0.85" fill="#3030c0"/>
<circle cx="242.23" cy="524.4" r="0.85" fill="#3030c0"/>
<line x1="293.77" y1="439.1" x2="293.77" y2="450.9" stroke="#dc5a5a" stroke-width="0.7"/>
<line x1="293.77" y1="495.7" x2="293.77" y2="524.4" stroke="#dc5a5a" stroke-width="0.7"/>
<line x1="283.46" y1="439.1" x2="304.08" y2="439.1" stroke="#dc5a5a" stroke-width="0.7"/>
<line x1="283.46" y1="524.4" x2="304.08" y2="524.4" stroke="#dc5a5a" stroke-width="0.7"/>
<rect x="275.73" y="450.9" width="36.08" height="44.8" fill="#fd7a7a" stroke="#dc5454" stroke-width="0.8"/>
<line x1="275.73" y1="470.8" x2="311.81" y2="470.8" stroke="#d84040" stroke-width="1.1" stroke-opacity="1"/>
<circle cx="293.77" cy="439.1" r="0.85" fill="#b83030"/>
<circle cx="293.77" cy="447.2" r="0.85" fill="#b83030"/>
<circle cx="293.77" cy="460.5" r="0.85" fill="#b83030"/>
<circle cx="293.77" cy="481.7" r="0.85" fill="#b83030"/>
<circle cx="293.77" cy="500.4" r="0.85" fill="#b83030"/>
<circle cx="293.77" cy="524.4" r="0.85" fill="#b83030"/>
<text x="329.1" y="466.1" class="lg">group</text>
<rect x="330" y="469.8" width="5" height="4.0" fill="#7f7ffd" fill-opacity="0.5" stroke="#5050e6" stroke-opacity="0.55" stroke-width="0.35"/>
<line x1="330" y1="471.8" x2="335" y2="471.8" stroke="#3c3cd6" stroke-opacity="0.6" stroke-width="0.45"/>
<line x1="332.5" y1="469.6" x2="332.5" y2="474" stroke="#3c3cd6" stroke-opacity="0.5" stroke-width="0.4"/>
<circle cx="332.5" cy="471.8" r="0.6" fill="#3030c0" fill-opacity="0.7"/>
<text x="337.9" y="474.3" class="lg">LDMCON6</text>
<rect x="330" y="475.8" width="5" height="4.0" fill="#fd7a7a" fill-opacity="0.5" stroke="#dc5454" stroke-opacity="0.55" stroke-width="0.35"/>
<line x1="330" y1="477.8" x2="335" y2="477.8" stroke="#d84040" stroke-opacity="0.6" stroke-width="0.45"/>
<line x1="332.5" y1="475.6" x2="332.5" y2="480" stroke="#d84040" stroke-opacity="0.5" stroke-width="0.4"/>
<circle cx="332.5" cy="477.8" r="0.6" fill="#b83030" fill-opacity="0.7"/>
<text x="337.9" y="480.3" class="lg">LDM6</text>
</g>
<g>
<text x="352.3" y="414.35" class="lt">L</text>
<rect x="390.4" y="411.6" width="116.3" height="116.8" fill="#fff" stroke="#d6d6d6" stroke-width="0.6"/>
<text x="448.55" y="418" class="pv">p=3.409848e-02</text>
<text x="388.8" y="422.15" class="tk">0.03</text>
<line x1="389.4" y1="420.15" x2="390.4" y2="420.15" stroke="#aaa" stroke-width="0.4"/>
<text x="388.8" y="456.55" class="tk">0.02</text>
<line x1="389.4" y1="454.55" x2="390.4" y2="454.55" stroke="#aaa" stroke-width="0.4"/>
<text x="388.8" y="490.95" class="tk">0.01</text>
<line x1="389.4" y1="488.95" x2="390.4" y2="488.95" stroke="#aaa" stroke-width="0.4"/>
<text x="388.8" y="525.35" class="tk">0.00</text>
<line x1="389.4" y1="523.35" x2="390.4" y2="523.35" stroke="#aaa" stroke-width="0.4"/>
<line x1="422.12" y1="528.4" x2="422.12" y2="529.7" stroke="#aaa" stroke-width="0.4"/>
<line x1="474.98" y1="528.4" x2="474.98" y2="529.7" stroke="#aaa" stroke-width="0.4"/>
<text x="422.12" y="534" class="xl">LDMCON6</text>
<text x="474.98" y="534" class="xl">LDM6</text>
<text x="448.55" y="539.4" class="xt">group</text>
<text transform="translate(376.77,470) rotate(-90)" x="0" y="0" class="yt">1-Butanol, 3-methyl-</text>
<line x1="422.12" y1="480.3" x2="422.12" y2="486" stroke="#5252e0" stroke-width="0.7"/>
<line x1="422.12" y1="510.5" x2="422.12" y2="523.5" stroke="#5252e0" stroke-width="0.7"/>
<line x1="411.55" y1="480.3" x2="432.69" y2="480.3" stroke="#5252e0" stroke-width="0.7"/>
<line x1="411.55" y1="523.5" x2="432.69" y2="523.5" stroke="#5252e0" stroke-width="0.7"/>
<rect x="403.62" y="486" width="37" height="24.5" fill="#7f7ffd" stroke="#5050e6" stroke-width="0.8"/>
<line x1="403.62" y1="502.5" x2="440.62" y2="502.5" stroke="#3c3cd6" stroke-width="1.1" stroke-opacity="1"/>
<circle cx="422.12" cy="480.3" r="0.85" fill="#3030c0"/>
<circle cx="422.12" cy="486" r="0.85" fill="#3030c0"/>
<circle cx="422.12" cy="502.5" r="0.85" fill="#3030c0"/>
<circle cx="422.12" cy="512.5" r="0.85" fill="#3030c0"/>
<circle cx="422.12" cy="523.5" r="0.85" fill="#3030c0"/>
<line x1="474.98" y1="438" x2="474.98" y2="446.2" stroke="#dc5a5a" stroke-width="0.7"/>
<line x1="474.98" y1="487.4" x2="474.98" y2="508.2" stroke="#dc5a5a" stroke-width="0.7"/>
<line x1="464.41" y1="438" x2="485.55" y2="438" stroke="#dc5a5a" stroke-width="0.7"/>
<line x1="464.41" y1="508.2" x2="485.55" y2="508.2" stroke="#dc5a5a" stroke-width="0.7"/>
<rect x="456.48" y="446.2" width="37" height="41.2" fill="#fd7a7a" stroke="#dc5454" stroke-width="0.8"/>
<line x1="456.48" y1="455.9" x2="493.48" y2="455.9" stroke="#d84040" stroke-width="1.1" stroke-opacity="1"/>
<circle cx="474.98" cy="438" r="0.85" fill="#b83030"/>
<circle cx="474.98" cy="444.2" r="0.85" fill="#b83030"/>
<circle cx="474.98" cy="452.8" r="0.85" fill="#b83030"/>
<circle cx="474.98" cy="458.9" r="0.85" fill="#b83030"/>
<circle cx="474.98" cy="496.7" r="0.85" fill="#b83030"/>
<circle cx="474.98" cy="508.2" r="0.85" fill="#b83030"/>
<text x="511" y="464.7" class="lg">group</text>
<rect x="511.9" y="468.4" width="5" height="4.0" fill="#7f7ffd" fill-opacity="0.5" stroke="#5050e6" stroke-opacity="0.55" stroke-width="0.35"/>
<line x1="511.9" y1="470.4" x2="516.9" y2="470.4" stroke="#3c3cd6" stroke-opacity="0.6" stroke-width="0.45"/>
<line x1="514.4" y1="468.2" x2="514.4" y2="472.6" stroke="#3c3cd6" stroke-opacity="0.5" stroke-width="0.4"/>
<circle cx="514.4" cy="470.4" r="0.6" fill="#3030c0" fill-opacity="0.7"/>
<text x="520" y="472.9" class="lg">LDMCON6</text>
<rect x="511.9" y="474.4" width="5" height="4.0" fill="#fd7a7a" fill-opacity="0.5" stroke="#dc5454" stroke-opacity="0.55" stroke-width="0.35"/>
<line x1="511.9" y1="476.4" x2="516.9" y2="476.4" stroke="#d84040" stroke-opacity="0.6" stroke-width="0.45"/>
<line x1="514.4" y1="474.2" x2="514.4" y2="478.6" stroke="#d84040" stroke-opacity="0.5" stroke-width="0.4"/>
<circle cx="514.4" cy="476.4" r="0.6" fill="#b83030" fill-opacity="0.7"/>
<text x="520" y="478.9" class="lg">LDM6</text>
</g>
</svg>
</body></html>
